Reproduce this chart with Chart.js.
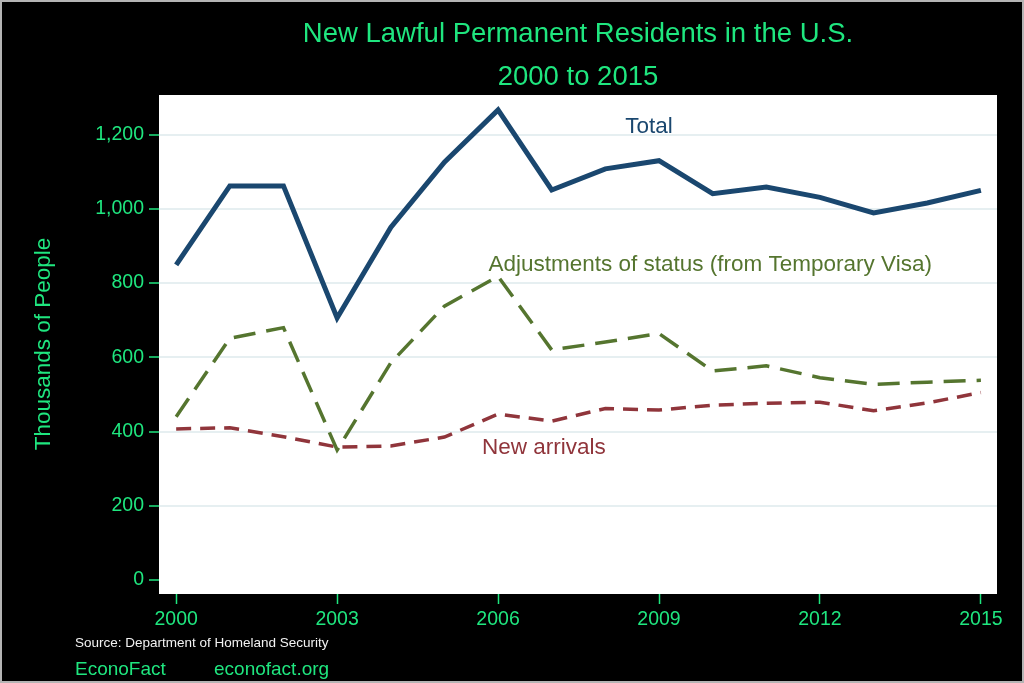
<!DOCTYPE html>
<html>
<head>
<meta charset="utf-8">
<script src="https://cdn.jsdelivr.net/npm/chart.js@4.4.1/dist/chart.umd.min.js"></script>
<style>
  html, body { margin: 0; padding: 0; background: #000; }
  #wrap { width: 1024px; height: 683px; }
</style>
</head>
<body>
<div id="wrap"><canvas id="g_lpr" width="1024" height="683"></canvas></div>
<script>
// Données (milliers de personnes)
let years = [2000, 2001, 2002, 2003, 2004, 2005, 2006, 2007, 2008, 2009, 2010, 2011, 2012, 2013, 2014, 2015];
let totalValues = [849, 1062, 1062, 706, 950, 1126, 1267, 1051, 1108, 1130, 1041, 1059, 1031, 989, 1016, 1050];
let adjustValues = [440, 651, 680, 350, 585, 738, 818, 620, 641, 664, 563, 577, 545, 527, 533, 538];
let arrivalValues = [407, 410, 386, 358, 361, 385, 447, 428, 462, 458, 471, 476, 479, 456, 477, 505];
let xTicks = [2000, 2003, 2006, 2009, 2012, 2015];
let yTicks = [0, 200, 400, 600, 800, 1000, 1200];
let seriesNames = ['Total', 'Adjustments of status (from Temporary Visa)', 'New arrivals'];

const GREEN = '#1fe67f';
const NAVY = '#1a476f';
const OLIVE = '#55752f';
const MAROON = '#90353b';
const FONT = "'Liberation Sans', Arial, sans-serif";

function toPoints(vals) {
    let pts = [];
    for (let i = 0; i < years.length; i++) {
        pts.push({ x: years[i], y: vals[i] });
    }
    return pts;
}

// fond noir + zone de tracé blanche, textes
let decor = {
    id: 'decor',
    beforeDraw(chart) {
        let ctx = chart.ctx;
        let a = chart.chartArea;
        ctx.save();
        ctx.fillStyle = '#000';
        ctx.fillRect(0, 0, chart.width, chart.height);
        ctx.fillStyle = '#fff';
        ctx.fillRect(a.left, a.top, a.right - a.left, a.bottom - a.top);
        ctx.restore();
    },
    afterDraw(chart) {
        let ctx = chart.ctx;
        let a = chart.chartArea;
        let xs = chart.scales.x;
        let ys = chart.scales.y;
        let cx = (a.left + a.right) / 2;
        ctx.save();
        ctx.textAlign = 'center';
        ctx.textBaseline = 'alphabetic';
        ctx.fillStyle = GREEN;
        ctx.font = '27.5px ' + FONT;
        ctx.fillText('New Lawful Permanent Residents in the U.S.', cx, 42);
        ctx.fillText('2000 to 2015', cx, 85);

        // titre axe y
        ctx.save();
        ctx.translate(50, 344);
        ctx.rotate(-Math.PI / 2);
        ctx.font = '22.5px ' + FONT;
        ctx.fillText('Thousands of People', 0, 0);
        ctx.restore();

        // étiquettes des séries
        ctx.textAlign = 'left';
        ctx.font = '22.5px ' + FONT;
        ctx.fillStyle = NAVY;
        ctx.fillText(seriesNames[0], xs.getPixelForValue(2008.37), ys.getPixelForValue(1205));
        ctx.fillStyle = OLIVE;
        ctx.fillText(seriesNames[1], xs.getPixelForValue(2005.82), ys.getPixelForValue(833));
        ctx.fillStyle = MAROON;
        ctx.fillText(seriesNames[2], xs.getPixelForValue(2005.70), ys.getPixelForValue(340));

        // pied de page
        ctx.fillStyle = '#f2f2f2';
        ctx.font = '13.5px ' + FONT;
        ctx.fillText('Source: Department of Homeland Security', 75, 647);
        ctx.fillStyle = GREEN;
        ctx.font = '19px ' + FONT;
        ctx.fillText('EconoFact', 75, 675);
        ctx.fillText('econofact.org', 214, 675);

        // cadre gris
        ctx.strokeStyle = '#b4b4b4';
        ctx.lineWidth = 2;
        ctx.strokeRect(1, 1, chart.width - 2, chart.height - 2);
        ctx.restore();
    }
};

let context = document.getElementById('g_lpr').getContext('2d');
let conData = {
    datasets: [{
        label: seriesNames[0],
        data: toPoints(totalValues),
        borderColor: NAVY,
        borderWidth: 5,
        order: 1
    }, {
        label: seriesNames[1],
        data: toPoints(adjustValues),
        borderColor: OLIVE,
        borderWidth: 3.5,
        borderDash: [22, 11],
        order: 2
    }, {
        label: seriesNames[2],
        data: toPoints(arrivalValues),
        borderColor: MAROON,
        borderWidth: 3.5,
        borderDash: [15, 9],
        order: 3
    }]
};
let options = {
    responsive: false,
    animation: false,
    layout: { padding: { top: 95, right: 27, left: 0, bottom: 0 } },
    elements: {
        point: { radius: 0 },
        line: { tension: 0, fill: false }
    },
    plugins: {
        legend: { display: false },
        title: { display: false },
        tooltip: { enabled: false }
    },
    scales: {
        x: {
            type: 'linear',
            min: 1999.68,
            max: 2015.3,
            afterBuildTicks: (s) => { s.ticks = xTicks.map(v => ({ value: v })); },
            afterFit: (s) => { s.height = 89; },
            border: { display: false },
            grid: {
                drawOnChartArea: false,
                drawTicks: true,
                tickLength: 10,
                tickColor: GREEN,
                tickWidth: 1.5
            },
            ticks: {
                color: GREEN,
                padding: 4,
                maxRotation: 0,
                font: { family: FONT, size: 19.5 },
                callback: (v) => String(v)
            }
        },
        y: {
            min: -38,
            max: 1307,
            afterBuildTicks: (s) => { s.ticks = yTicks.map(v => ({ value: v })); },
            afterFit: (s) => { s.width = 159; },
            border: { display: false },
            grid: {
                color: (c) => (c.tick && c.tick.value === 0) ? 'rgba(0,0,0,0)' : '#e6eff1',
                lineWidth: 2,
                drawTicks: true,
                tickLength: 10,
                tickColor: GREEN,
                tickWidth: 1.5
            },
            ticks: {
                color: GREEN,
                padding: 5,
                font: { family: FONT, size: 19.5 },
                callback: (v) => v.toLocaleString('en-US')
            }
        }
    }
};
let config = {
    type: 'line',
    data: conData,
    options: options,
    plugins: [decor]
};
let gLpr = new Chart(context, config);
</script>
</body>
</html>
